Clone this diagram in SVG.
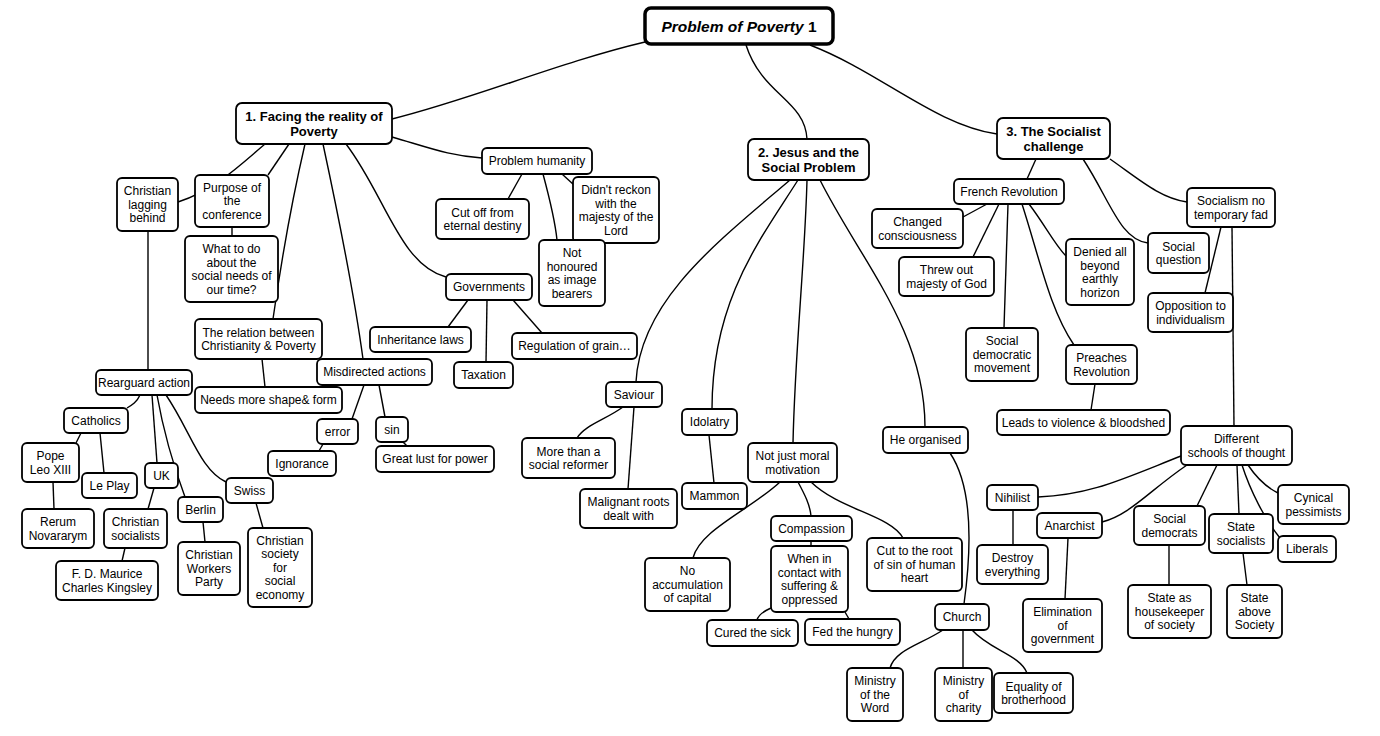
<svg xmlns="http://www.w3.org/2000/svg" width="1380" height="736" viewBox="0 0 1380 736">
<style>
  .bx { fill: #ffffff; stroke: #000000; stroke-width: 1.8; }
  .root { fill: #ffffff; stroke: #000000; stroke-width: 3.5; }
  .t { font-family: "Liberation Sans", Arial, sans-serif; font-size: 12px; fill: #000; text-anchor: middle; }
  .h { font-family: "Liberation Sans", Arial, sans-serif; font-size: 13px; font-weight: bold; fill: #000; text-anchor: middle; }
  .rt { font-family: "Liberation Sans", Arial, sans-serif; font-size: 15.5px; font-weight: bold; fill: #000; text-anchor: middle; }
  .c path { fill: none; stroke: #000; stroke-width: 1.4; }
</style>
<rect x="0" y="0" width="1380" height="736" fill="#ffffff"/>
<g id="connectors" class="c">
  <path d="M645,42 C560,62 470,100 392,119"/>
  <path d="M746,45 C762,95 805,100 807,139"/>
  <path d="M810,45 C880,72 935,125 997,134"/>
  <path d="M265,144 C240,165 215,190 178,202"/>
  <path d="M289,144 L268,175"/>
  <path d="M232,227 L232,236"/>
  <path d="M148,231 L148,370"/>
  <path d="M305,144 C292,200 280,270 273,319"/>
  <path d="M262,359 L265,387"/>
  <path d="M323,144 C335,200 355,300 363,359"/>
  <path d="M346,144 C385,195 400,265 446,277"/>
  <path d="M392,137 C430,148 450,156 482,158"/>
  <path d="M522,174 L508,199"/>
  <path d="M543,174 C550,200 555,220 557,240"/>
  <path d="M562,174 L574,185"/>
  <path d="M468,300 L448,327"/>
  <path d="M487,300 L486,362"/>
  <path d="M513,300 L542,333"/>
  <path d="M364,385 L352,419"/>
  <path d="M379,385 L385,417"/>
  <path d="M323,444 L319,451"/>
  <path d="M403,442 L407,446"/>
  <path d="M140,395 C137,402 132,405 127,408"/>
  <path d="M152,395 L157,463"/>
  <path d="M157,395 C165,440 175,470 185,497"/>
  <path d="M166,395 C190,430 200,470 226,482"/>
  <path d="M81,433 L76,443"/>
  <path d="M100,433 L104,473"/>
  <path d="M53,482 L54,509"/>
  <path d="M154,488 L148,509"/>
  <path d="M125,548 L122,561"/>
  <path d="M203,522 L205,542"/>
  <path d="M256,503 L263,528"/>
  <path d="M790,180 C720,240 640,300 636,382"/>
  <path d="M798,180 C760,240 712,300 712,409"/>
  <path d="M807,180 C805,260 795,350 793,443"/>
  <path d="M820,180 C860,260 925,330 925,427"/>
  <path d="M623,407 C605,420 585,425 577,438"/>
  <path d="M634,407 L628,489"/>
  <path d="M709,435 L714,483"/>
  <path d="M780,482 C750,510 700,530 693,558"/>
  <path d="M798,482 C805,495 810,505 811,516"/>
  <path d="M811,482 C840,510 890,515 903,538"/>
  <path d="M811,541 L811,546"/>
  <path d="M771,608 C762,612 758,616 757,620"/>
  <path d="M845,612 L849,619"/>
  <path d="M950,453 C975,490 970,560 964,604"/>
  <path d="M943,630 C920,645 895,650 890,668"/>
  <path d="M963,630 L963,668"/>
  <path d="M972,630 C990,650 1020,655 1027,673"/>
  <path d="M1036,159 L1027,179"/>
  <path d="M1083,159 C1110,200 1120,240 1148,243"/>
  <path d="M1110,159 C1140,180 1160,198 1187,202"/>
  <path d="M987,204 L963,217"/>
  <path d="M999,204 L973,257"/>
  <path d="M1008,204 L1004,328"/>
  <path d="M1022,204 C1040,260 1050,310 1074,345"/>
  <path d="M1029,204 C1045,225 1055,245 1066,256"/>
  <path d="M1095,384 L1091,410"/>
  <path d="M1221,227 L1205,293"/>
  <path d="M1232,227 L1234,426"/>
  <path d="M1181,456 C1120,480 1090,495 1038,497"/>
  <path d="M1187,465 C1150,490 1130,515 1102,522"/>
  <path d="M1217,465 L1197,506"/>
  <path d="M1237,465 L1239,514"/>
  <path d="M1242,465 C1250,490 1265,520 1280,538"/>
  <path d="M1248,465 C1258,480 1268,488 1278,493"/>
  <path d="M1169,545 L1169,585"/>
  <path d="M1243,553 L1247,585"/>
  <path d="M1013,510 L1013,545"/>
  <path d="M1068,538 L1065,599"/>
</g>

<g id="root"><rect class="root" x="645" y="8" width="188" height="36" rx="6"/>
<text class="rt" x="739" y="31.5"><tspan font-style="italic">Problem of Poverty</tspan> 1</text></g>

<g id="n1"><rect class="bx" x="236" y="103" width="156" height="41" rx="6"/>
<text class="h"><tspan x="314" y="121">1. Facing the reality of</tspan><tspan x="314" y="135.5">Poverty</tspan></text></g>
<g id="n2"><rect class="bx" x="748" y="139" width="121" height="41" rx="6"/>
<text class="h"><tspan x="808.5" y="157">2. Jesus and the</tspan><tspan x="808.5" y="171.5">Social Problem</tspan></text></g>
<g id="n3"><rect class="bx" x="997" y="118" width="113" height="41" rx="6"/>
<text class="h"><tspan x="1053.5" y="136">3. The Socialist</tspan><tspan x="1053.5" y="150.5">challenge</tspan></text></g>

<g id="clagging"><rect class="bx" x="117" y="178" width="61" height="53" rx="5"/>
<text class="t"><tspan x="147.5" y="195.3">Christian</tspan><tspan x="147.5" y="208.8">lagging</tspan><tspan x="147.5" y="222.3">behind</tspan></text></g>
<g id="purpose"><rect class="bx" x="195" y="175" width="74" height="52" rx="5"/>
<text class="t"><tspan x="232" y="191.8">Purpose of</tspan><tspan x="232" y="205.3">the</tspan><tspan x="232" y="218.8">conference</tspan></text></g>
<g id="whattodo"><rect class="bx" x="185" y="236" width="93" height="66" rx="5"/>
<text class="t"><tspan x="231.5" y="253">What to do</tspan><tspan x="231.5" y="266.5">about the</tspan><tspan x="231.5" y="280">social needs of</tspan><tspan x="231.5" y="293.5">our time?</tspan></text></g>
<g id="relation"><rect class="bx" x="195" y="319" width="127" height="40" rx="5"/>
<text class="t"><tspan x="258.5" y="336.5">The relation between</tspan><tspan x="258.5" y="350">Christianity &amp; Poverty</tspan></text></g>
<g id="rearguard"><rect class="bx" x="96" y="370" width="96" height="25" rx="5"/>
<text class="t" x="144" y="386.8">Rearguard action</text></g>
<g id="needsmore"><rect class="bx" x="195" y="387" width="147" height="26" rx="5"/>
<text class="t" x="268.5" y="404.3">Needs more shape&amp; form</text></g>
<g id="catholics"><rect class="bx" x="64" y="408" width="64" height="25" rx="5"/>
<text class="t" x="96" y="424.8">Catholics</text></g>
<g id="pope"><rect class="bx" x="22" y="443" width="57" height="39" rx="5"/>
<text class="t"><tspan x="50.5" y="460">Pope</tspan><tspan x="50.5" y="473.5">Leo XIII</tspan></text></g>
<g id="leplay"><rect class="bx" x="82" y="473" width="55" height="25" rx="5"/>
<text class="t" x="109.5" y="489.8">Le Play</text></g>
<g id="uk"><rect class="bx" x="145" y="463" width="33" height="25" rx="5"/>
<text class="t" x="161.5" y="479.8">UK</text></g>
<g id="berlin"><rect class="bx" x="178" y="497" width="45" height="25" rx="5"/>
<text class="t" x="200.5" y="513.8">Berlin</text></g>
<g id="swiss"><rect class="bx" x="226" y="478" width="47" height="25" rx="5"/>
<text class="t" x="249.5" y="494.8">Swiss</text></g>
<g id="rerum"><rect class="bx" x="22" y="509" width="72" height="39" rx="5"/>
<text class="t"><tspan x="58" y="526">Rerum</tspan><tspan x="58" y="539.5">Novararym</tspan></text></g>
<g id="csocialists"><rect class="bx" x="104" y="509" width="63" height="39" rx="5"/>
<text class="t"><tspan x="135.5" y="526">Christian</tspan><tspan x="135.5" y="539.5">socialists</tspan></text></g>
<g id="fdmaurice"><rect class="bx" x="56" y="561" width="102" height="39" rx="5"/>
<text class="t"><tspan x="107" y="578">F. D. Maurice</tspan><tspan x="107" y="591.5">Charles Kingsley</tspan></text></g>
<g id="cworkers"><rect class="bx" x="178" y="542" width="62" height="53" rx="5"/>
<text class="t"><tspan x="209" y="559.3">Christian</tspan><tspan x="209" y="572.8">Workers</tspan><tspan x="209" y="586.3">Party</tspan></text></g>
<g id="csociety"><rect class="bx" x="248" y="528" width="64" height="79" rx="5"/>
<text class="t"><tspan x="280" y="544.8">Christian</tspan><tspan x="280" y="558.3">society</tspan><tspan x="280" y="571.8">for</tspan><tspan x="280" y="585.3">social</tspan><tspan x="280" y="598.8">economy</tspan></text></g>
<g id="misdirected"><rect class="bx" x="317" y="359" width="115" height="26" rx="5"/>
<text class="t" x="374.5" y="376.3">Misdirected actions</text></g>
<g id="error"><rect class="bx" x="317" y="419" width="41" height="25" rx="5"/>
<text class="t" x="337.5" y="435.8">error</text></g>
<g id="sin"><rect class="bx" x="376" y="417" width="32" height="25" rx="5"/>
<text class="t" x="392" y="433.8">sin</text></g>
<g id="ignorance"><rect class="bx" x="268" y="451" width="68" height="25" rx="5"/>
<text class="t" x="302" y="467.8">Ignorance</text></g>
<g id="greatlust"><rect class="bx" x="376" y="446" width="118" height="26" rx="5"/>
<text class="t" x="435" y="463.3">Great lust for power</text></g>
<g id="probhum"><rect class="bx" x="482" y="148" width="110" height="26" rx="5"/>
<text class="t" x="537" y="165.3">Problem humanity</text></g>
<g id="cutoff"><rect class="bx" x="436" y="199" width="93" height="40" rx="5"/>
<text class="t"><tspan x="482.5" y="216.5">Cut off from</tspan><tspan x="482.5" y="230">eternal destiny</tspan></text></g>
<g id="didnt"><rect class="bx" x="573" y="177" width="86" height="66" rx="5"/>
<text class="t"><tspan x="616" y="194">Didn't reckon</tspan><tspan x="616" y="207.5">with the</tspan><tspan x="616" y="221">majesty of the</tspan><tspan x="616" y="234.5">Lord</tspan></text></g>
<g id="nothonoured"><rect class="bx" x="539" y="240" width="66" height="66" rx="5"/>
<text class="t"><tspan x="572" y="257">Not</tspan><tspan x="572" y="270.5">honoured</tspan><tspan x="572" y="284">as image</tspan><tspan x="572" y="297.5">bearers</tspan></text></g>
<g id="governments"><rect class="bx" x="446" y="274" width="86" height="26" rx="5"/>
<text class="t" x="489" y="291.3">Governments</text></g>
<g id="inheritance"><rect class="bx" x="370" y="327" width="101" height="25" rx="5"/>
<text class="t" x="420.5" y="343.8">Inheritance laws</text></g>
<g id="regulation"><rect class="bx" x="512" y="333" width="125" height="26" rx="5"/>
<text class="t" x="574.5" y="350.3">Regulation of grain…</text></g>
<g id="taxation"><rect class="bx" x="454" y="362" width="59" height="26" rx="5"/>
<text class="t" x="483.5" y="379.3">Taxation</text></g>

<g id="saviour"><rect class="bx" x="606" y="382" width="56" height="25" rx="5"/>
<text class="t" x="634" y="398.8">Saviour</text></g>
<g id="morethan"><rect class="bx" x="522" y="438" width="93" height="40" rx="5"/>
<text class="t"><tspan x="568.5" y="455.5">More than a</tspan><tspan x="568.5" y="469">social reformer</tspan></text></g>
<g id="malignant"><rect class="bx" x="580" y="489" width="97" height="39" rx="5"/>
<text class="t"><tspan x="628.5" y="506">Malignant roots</tspan><tspan x="628.5" y="519.5">dealt with</tspan></text></g>
<g id="idolatry"><rect class="bx" x="682" y="409" width="55" height="26" rx="5"/>
<text class="t" x="709.5" y="426.3">Idolatry</text></g>
<g id="mammon"><rect class="bx" x="682" y="483" width="65" height="26" rx="5"/>
<text class="t" x="714.5" y="500.3">Mammon</text></g>
<g id="notjust"><rect class="bx" x="748" y="443" width="89" height="39" rx="5"/>
<text class="t"><tspan x="792.5" y="460">Not just moral</tspan><tspan x="792.5" y="473.5">motivation</tspan></text></g>
<g id="compassion"><rect class="bx" x="771" y="516" width="81" height="25" rx="5"/>
<text class="t" x="811.5" y="532.8">Compassion</text></g>
<g id="wheninc"><rect class="bx" x="771" y="546" width="77" height="66" rx="5"/>
<text class="t"><tspan x="809.5" y="563">When in</tspan><tspan x="809.5" y="576.5">contact with</tspan><tspan x="809.5" y="590">suffering &amp;</tspan><tspan x="809.5" y="603.5">oppressed</tspan></text></g>
<g id="noaccum"><rect class="bx" x="645" y="558" width="85" height="53" rx="5"/>
<text class="t"><tspan x="687.5" y="575.3">No</tspan><tspan x="687.5" y="588.8">accumulation</tspan><tspan x="687.5" y="602.3">of capital</tspan></text></g>
<g id="cured"><rect class="bx" x="707" y="620" width="91" height="26" rx="5"/>
<text class="t" x="752.5" y="637.3">Cured the sick</text></g>
<g id="fed"><rect class="bx" x="805" y="619" width="95" height="26" rx="5"/>
<text class="t" x="852.5" y="636.3">Fed the hungry</text></g>
<g id="heorganised"><rect class="bx" x="883" y="427" width="85" height="26" rx="5"/>
<text class="t" x="925.5" y="444.3">He organised</text></g>
<g id="cutroot"><rect class="bx" x="867" y="538" width="95" height="53" rx="5"/>
<text class="t"><tspan x="914.5" y="555.3">Cut to the root</tspan><tspan x="914.5" y="568.8">of sin of human</tspan><tspan x="914.5" y="582.3">heart</tspan></text></g>
<g id="church"><rect class="bx" x="935" y="604" width="54" height="26" rx="5"/>
<text class="t" x="962" y="621.3">Church</text></g>
<g id="minword"><rect class="bx" x="847" y="668" width="56" height="53" rx="5"/>
<text class="t"><tspan x="875" y="685.3">Ministry</tspan><tspan x="875" y="698.8">of the</tspan><tspan x="875" y="712.3">Word</tspan></text></g>
<g id="mincharity"><rect class="bx" x="935" y="668" width="57" height="53" rx="5"/>
<text class="t"><tspan x="963.5" y="685.3">Ministry</tspan><tspan x="963.5" y="698.8">of</tspan><tspan x="963.5" y="712.3">charity</tspan></text></g>
<g id="equality"><rect class="bx" x="994" y="673" width="79" height="40" rx="5"/>
<text class="t"><tspan x="1033.5" y="690.5">Equality of</tspan><tspan x="1033.5" y="704">brotherhood</tspan></text></g>

<g id="french"><rect class="bx" x="954" y="179" width="110" height="25" rx="5"/>
<text class="t" x="1009" y="195.8">French Revolution</text></g>
<g id="changed"><rect class="bx" x="872" y="209" width="91" height="39" rx="5"/>
<text class="t"><tspan x="917.5" y="226">Changed</tspan><tspan x="917.5" y="239.5">consciousness</tspan></text></g>
<g id="threw"><rect class="bx" x="899" y="257" width="95" height="39" rx="5"/>
<text class="t"><tspan x="946.5" y="274">Threw out</tspan><tspan x="946.5" y="287.5">majesty of God</tspan></text></g>
<g id="denied"><rect class="bx" x="1066" y="239" width="68" height="66" rx="5"/>
<text class="t"><tspan x="1100" y="256">Denied all</tspan><tspan x="1100" y="269.5">beyond</tspan><tspan x="1100" y="283">earthly</tspan><tspan x="1100" y="296.5">horizon</tspan></text></g>
<g id="socdemmov"><rect class="bx" x="966" y="328" width="72" height="53" rx="5"/>
<text class="t"><tspan x="1002" y="345.3">Social</tspan><tspan x="1002" y="358.8">democratic</tspan><tspan x="1002" y="372.3">movement</tspan></text></g>
<g id="preaches"><rect class="bx" x="1066" y="345" width="71" height="39" rx="5"/>
<text class="t"><tspan x="1101.5" y="362">Preaches</tspan><tspan x="1101.5" y="375.5">Revolution</tspan></text></g>
<g id="leads"><rect class="bx" x="997" y="410" width="173" height="25" rx="5"/>
<text class="t" x="1083.5" y="426.8">Leads to violence &amp; bloodshed</text></g>
<g id="socquestion"><rect class="bx" x="1148" y="233" width="61" height="40" rx="5"/>
<text class="t"><tspan x="1178.5" y="250.5">Social</tspan><tspan x="1178.5" y="264">question</tspan></text></g>
<g id="socfad"><rect class="bx" x="1187" y="188" width="88" height="39" rx="5"/>
<text class="t"><tspan x="1231" y="205">Socialism no</tspan><tspan x="1231" y="218.5">temporary fad</tspan></text></g>
<g id="opposition"><rect class="bx" x="1148" y="293" width="85" height="39" rx="5"/>
<text class="t"><tspan x="1190.5" y="310">Opposition to</tspan><tspan x="1190.5" y="323.5">individualism</tspan></text></g>
<g id="different"><rect class="bx" x="1181" y="426" width="111" height="39" rx="5"/>
<text class="t"><tspan x="1236.5" y="443">Different</tspan><tspan x="1236.5" y="456.5">schools of thought</tspan></text></g>
<g id="nihilist"><rect class="bx" x="987" y="485" width="51" height="25" rx="5"/>
<text class="t" x="1012.5" y="501.8">Nihilist</text></g>
<g id="anarchist"><rect class="bx" x="1037" y="513" width="65" height="25" rx="5"/>
<text class="t" x="1069.5" y="529.8">Anarchist</text></g>
<g id="destroy"><rect class="bx" x="977" y="545" width="71" height="39" rx="5"/>
<text class="t"><tspan x="1012.5" y="562">Destroy</tspan><tspan x="1012.5" y="575.5">everything</tspan></text></g>
<g id="elimination"><rect class="bx" x="1023" y="599" width="79" height="53" rx="5"/>
<text class="t"><tspan x="1062.5" y="616.3">Elimination</tspan><tspan x="1062.5" y="629.8">of</tspan><tspan x="1062.5" y="643.3">government</tspan></text></g>
<g id="socdemocrats"><rect class="bx" x="1134" y="506" width="71" height="39" rx="5"/>
<text class="t"><tspan x="1169.5" y="523">Social</tspan><tspan x="1169.5" y="536.5">democrats</tspan></text></g>
<g id="statesoc"><rect class="bx" x="1209" y="514" width="64" height="39" rx="5"/>
<text class="t"><tspan x="1241" y="531">State</tspan><tspan x="1241" y="544.5">socialists</tspan></text></g>
<g id="cynical"><rect class="bx" x="1278" y="485" width="71" height="39" rx="5"/>
<text class="t"><tspan x="1313.5" y="502">Cynical</tspan><tspan x="1313.5" y="515.5">pessimists</tspan></text></g>
<g id="liberals"><rect class="bx" x="1278" y="536" width="58" height="26" rx="5"/>
<text class="t" x="1307" y="553.3">Liberals</text></g>
<g id="housekeeper"><rect class="bx" x="1128" y="585" width="83" height="53" rx="5"/>
<text class="t"><tspan x="1169.5" y="602.3">State as</tspan><tspan x="1169.5" y="615.8">housekeeper</tspan><tspan x="1169.5" y="629.3">of society</tspan></text></g>
<g id="stateabove"><rect class="bx" x="1227" y="585" width="55" height="53" rx="5"/>
<text class="t"><tspan x="1254.5" y="602.3">State</tspan><tspan x="1254.5" y="615.8">above</tspan><tspan x="1254.5" y="629.3">Society</tspan></text></g>
</svg>
